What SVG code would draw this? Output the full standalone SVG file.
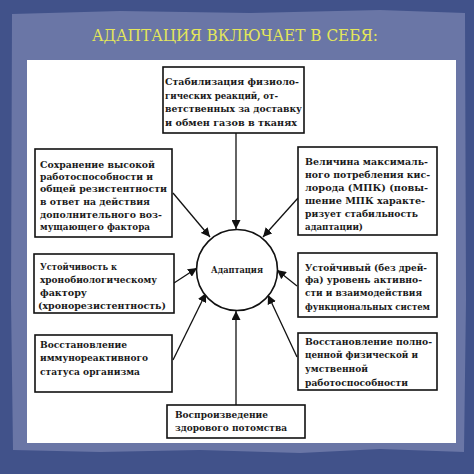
<svg xmlns="http://www.w3.org/2000/svg" width="474" height="474" viewBox="0 0 474 474">
<defs>
<marker id="arr" viewBox="0 0 10 10" refX="10" refY="5" markerWidth="9" markerHeight="9" markerUnits="userSpaceOnUse" orient="auto">
<path d="M0,0 L10,5 L0,10 z" fill="#111"/>
</marker>
</defs>
<style>
.box{fill:#fff;stroke:#111;stroke-width:1.6}
.t{font-family:"DejaVu Serif","Liberation Serif",serif;font-size:10px;font-weight:bold;fill:#1a1a1a}
.c{stroke:#111;stroke-width:1.3;fill:none;marker-end:url(#arr)}
</style>
<rect x="0" y="0" width="474" height="474" fill="#41528a"/>
<path d="M12,14 L120,11 L250,13 L380,10 L465,13 L466,300 L464,452 L380,449 L300,453 L200,450 L100,452 L13,450 L11,300 Z" fill="#6a76a6"/>
<text x="235" y="41" text-anchor="middle" font-family="'DejaVu Serif', 'Liberation Serif', serif" font-size="16" fill="#e4e65a" textLength="286" lengthAdjust="spacingAndGlyphs">АДАПТАЦИЯ ВКЛЮЧАЕТ В СЕБЯ:</text>
<rect x="27" y="60" width="429" height="383" fill="#fff"/>

<g id="connectors">
<line class="c" x1="236" y1="133" x2="236" y2="229"/>
<line class="c" x1="173" y1="193" x2="210" y2="237"/>
<line class="c" x1="298" y1="198" x2="263" y2="237"/>
<line class="c" x1="174" y1="283" x2="197" y2="268"/>
<line class="c" x1="297" y1="286" x2="277" y2="270"/>
<line class="c" x1="173" y1="360" x2="206" y2="293"/>
<line class="c" x1="297" y1="357" x2="268" y2="295"/>
<line class="c" x1="236" y1="405" x2="236" y2="311"/>
</g>

<g id="center">
<circle cx="237" cy="270" r="40.5" fill="#fff" stroke="#111" stroke-width="1.6"/>
<text class="t" x="237" y="273" text-anchor="middle" font-size="9" textLength="52" lengthAdjust="spacingAndGlyphs">Адаптация</text>
</g>

<g id="top">
<rect class="box" x="163" y="67" width="141" height="66"/>
<text class="t" x="165" y="85" textLength="134" lengthAdjust="spacingAndGlyphs">Стабилизация физиоло-</text>
<text class="t" x="165" y="99" textLength="113" lengthAdjust="spacingAndGlyphs">гических реакций, от-</text>
<text class="t" x="165" y="112" textLength="137" lengthAdjust="spacingAndGlyphs">ветственных за доставку</text>
<text class="t" x="165" y="126" textLength="132" lengthAdjust="spacingAndGlyphs">и обмен газов в тканях</text>
</g>

<g id="left1">
<rect class="box" x="35" y="149" width="137" height="88"/>
<text class="t" x="40" y="168" textLength="115" lengthAdjust="spacingAndGlyphs">Сохранение высокой</text>
<text class="t" x="40" y="180" textLength="113" lengthAdjust="spacingAndGlyphs">работоспособности и</text>
<text class="t" x="40" y="192" textLength="127" lengthAdjust="spacingAndGlyphs">общей  резистентности</text>
<text class="t" x="40" y="205" textLength="110" lengthAdjust="spacingAndGlyphs">в ответ на действия</text>
<text class="t" x="40" y="218" textLength="122" lengthAdjust="spacingAndGlyphs">дополнительного воз-</text>
<text class="t" x="40" y="230" textLength="110" lengthAdjust="spacingAndGlyphs">мущающего фактора</text>
</g>

<g id="right1">
<rect class="box" x="298" y="147" width="139" height="88"/>
<text class="t" x="305" y="165" textLength="123" lengthAdjust="spacingAndGlyphs">Величина максималь-</text>
<text class="t" x="305" y="178" textLength="125" lengthAdjust="spacingAndGlyphs">ного потребления кис-</text>
<text class="t" x="305" y="191" textLength="123" lengthAdjust="spacingAndGlyphs">лорода (МПК) (повы-</text>
<text class="t" x="305" y="204" textLength="120" lengthAdjust="spacingAndGlyphs">шение МПК характе-</text>
<text class="t" x="305" y="217" textLength="113" lengthAdjust="spacingAndGlyphs">ризует стабильность</text>
<text class="t" x="305" y="230" textLength="58" lengthAdjust="spacingAndGlyphs">адаптации)</text>
</g>

<g id="left2">
<rect class="box" x="34" y="254" width="140" height="59"/>
<text class="t" x="40" y="270" textLength="77" lengthAdjust="spacingAndGlyphs">Устойчивость к</text>
<text class="t" x="40" y="283" textLength="117" lengthAdjust="spacingAndGlyphs">хронобиологическому</text>
<text class="t" x="40" y="296" textLength="47" lengthAdjust="spacingAndGlyphs">фактору</text>
<text class="t" x="38" y="309" textLength="128" lengthAdjust="spacingAndGlyphs">(хронорезистентность)</text>
</g>

<g id="right2">
<rect class="box" x="298" y="253" width="139" height="64"/>
<text class="t" x="305" y="271" textLength="122" lengthAdjust="spacingAndGlyphs">Устойчивый (без дрей-</text>
<text class="t" x="305" y="283" textLength="117" lengthAdjust="spacingAndGlyphs">фа) уровень активно-</text>
<text class="t" x="305" y="296" textLength="117" lengthAdjust="spacingAndGlyphs">сти и взаимодействия</text>
<text class="t" x="305" y="310" textLength="125" lengthAdjust="spacingAndGlyphs">функциональных систем</text>
</g>

<g id="left3">
<rect class="box" x="35" y="335" width="137" height="57"/>
<text class="t" x="40" y="348" textLength="87" lengthAdjust="spacingAndGlyphs">Восстановление</text>
<text class="t" x="40" y="361" textLength="108" lengthAdjust="spacingAndGlyphs">иммунореактивного</text>
<text class="t" x="40" y="375" textLength="100" lengthAdjust="spacingAndGlyphs">статуса организма</text>
</g>

<g id="right3">
<rect class="box" x="298" y="333" width="139" height="57"/>
<text class="t" x="305" y="345" textLength="127" lengthAdjust="spacingAndGlyphs">Восстановление полно-</text>
<text class="t" x="305" y="358" textLength="113" lengthAdjust="spacingAndGlyphs">ценной физической и</text>
<text class="t" x="305" y="372" textLength="63" lengthAdjust="spacingAndGlyphs">умственной</text>
<text class="t" x="305" y="386" textLength="103" lengthAdjust="spacingAndGlyphs">работоспособности</text>
</g>

<g id="bottom">
<rect class="box" x="167" y="405" width="138" height="33"/>
<text class="t" x="175" y="418" textLength="93" lengthAdjust="spacingAndGlyphs">Воспроизведение</text>
<text class="t" x="175" y="431" textLength="112" lengthAdjust="spacingAndGlyphs">здорового потомства</text>
</g>
</svg>
